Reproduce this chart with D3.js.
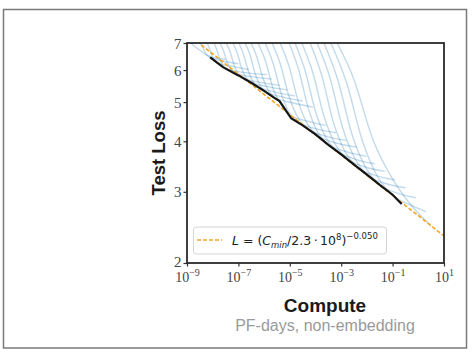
<!DOCTYPE html>
<html>
<head>
<meta charset="utf-8">
<script src="https://cdn.jsdelivr.net/npm/d3@7"></script>
<style>
body { margin: 0; background: #fff; }
svg { display: block; }
</style>
</head>
<body>
<script>
// compute is stored as log10(PF-days), loss as test loss

// lower envelope of all runs (black)
var frontier = [[-8.1,6.45],[-7.6,6.1],[-7.0,5.82],[-6.5,5.58],[-6.0,5.33],[-5.6,5.12],[-5.4,5.03],
  [-5.2,4.82],[-4.95,4.56],[-4.5,4.38],[-4.0,4.16],[-3.5,3.92],[-3.0,3.71],[-2.5,3.5],
  [-2.0,3.31],[-1.5,3.12],[-1.0,2.95],[-0.65,2.8]];

// learning curves, one per model size (light blue)
var runs = [
  [[-8.85,7.0],[-8.7,6.86],[-8.5,6.72],[-8.25,6.55],[-8.05,6.46],[-7.5,6.38]],
  [[-8.49,7.0],[-8.39,6.85],[-8.295,6.64],[-8.2,6.51],[-8.1,6.45],[-7.6,6.32],[-7.0,6.22]],
  [[-8.22,7.0],[-8.13,6.8],[-8.035,6.52],[-7.94,6.36],[-7.85,6.27],[-7.2,6.12],[-6.6,6.02]],
  [[-7.95,7.0],[-7.84,6.74],[-7.725,6.38],[-7.61,6.16],[-7.5,6.05],[-6.8,5.92],[-5.9,5.85]],
  [[-7.72,7.0],[-7.58,6.7],[-7.435,6.27],[-7.29,6.02],[-7.15,5.9],[-6.5,5.78],[-5.7,5.7]],
  [[-7.48,7.0],[-7.32,6.65],[-7.165,6.17],[-7.01,5.89],[-6.85,5.75],[-6.2,5.6],[-5.4,5.5]],
  [[-7.21,7.0],[-7.045,6.61],[-6.88,6.08],[-6.715,5.76],[-6.55,5.61],[-5.9,5.47],[-5.1,5.36]],
  [[-6.98,7.0],[-6.8,6.56],[-6.615,5.97],[-6.43,5.62],[-6.25,5.46],[-5.6,5.3],[-4.8,5.18]],
  [[-6.74,7.0],[-6.54,6.52],[-6.345,5.87],[-6.15,5.49],[-5.95,5.31],[-5.3,5.15],[-4.5,5.03]],
  [[-6.51,7.0],[-6.28,6.46],[-6.055,5.75],[-5.83,5.34],[-5.6,5.14],[-4.9,4.98],[-4.1,4.86]],
  [[-6.24,7.0],[-5.94,6.3],[-5.645,5.39],[-5.35,4.95],[-5.05,4.66],[-4.4,4.5],[-3.6,4.38]],
  [[-5.96,7.0],[-5.645,6.22],[-5.33,5.24],[-5.015,4.7],[-4.7,4.46],[-4.0,4.3],[-3.2,4.2]],
  [[-5.69,7.0],[-5.355,6.17],[-5.02,5.14],[-4.685,4.58],[-4.35,4.32],[-3.6,4.12],[-2.8,4.02]],
  [[-5.38,7.0],[-5.02,6.11],[-4.665,5.0],[-4.31,4.41],[-3.95,4.15],[-3.2,3.96],[-2.4,3.87]],
  [[-5.03,7.0],[-4.66,6.03],[-4.29,4.85],[-3.92,4.22],[-3.55,3.95],[-2.8,3.77],[-2.0,3.67]],
  [[-4.8,7.0],[-4.4,5.97],[-4.0,4.74],[-3.6,4.09],[-3.2,3.8],[-2.5,3.62],[-1.7,3.52]],
  [[-4.53,7.0],[-4.1,5.9],[-3.665,4.6],[-3.23,3.93],[-2.8,3.63],[-2.1,3.46],[-1.3,3.37]],
  [[-4.21,7.0],[-3.76,5.83],[-3.305,4.46],[-2.85,3.77],[-2.4,3.46],[-1.7,3.3],[-0.9,3.21]],
  [[-3.94,7.0],[-3.44,5.75],[-2.945,4.32],[-2.45,3.61],[-1.95,3.29],[-1.3,3.15],[-0.5,3.07]],
  [[-3.67,7.0],[-3.13,5.67],[-2.585,4.17],[-2.04,3.44],[-1.5,3.12],[-0.9,2.99],[-0.1,2.9]],
  [[-3.4,7.0],[-2.79,5.58],[-2.175,4.01],[-1.56,3.25],[-0.95,2.93],[-0.3,2.78],[0.3,2.68]],
  [[-3.16,7.0],[-2.54,5.77],[-1.76,4.03],[-0.98,3.21],[-0.3,2.79],[0.5,2.47]]
];

// power-law fit from the legend: L = (C / 2.3e8)^-0.050
var fitScale = 2.3e8, fitAlpha = 0.050;
var fitCompute = [1e-9, 1e1];

var xTicks = [-9, -7, -5, -3, -1, 1];
var yTicks = [2, 3, 4, 5, 6, 7];

var W = 474, H = 353;
var plot = {left: 187, right: 444, top: 43, bottom: 263};

var svg = d3.select("body").append("svg")
  .attr("width", W).attr("height", H);

// outer frame of the screenshot
svg.append("rect")
  .attr("x", 3.5).attr("y", 9.5).attr("width", 463).attr("height", 338.5)
  .attr("fill", "none").attr("stroke", "#7a7a7a").attr("stroke-width", 1.5);

var x = d3.scaleLog().domain([1e-9, 1e1]).range([plot.left, plot.right]);
var y = d3.scaleLog().domain([2, 7]).range([plot.bottom, plot.top]);

svg.append("clipPath").attr("id", "clip")
  .append("rect")
  .attr("x", plot.left).attr("y", plot.top)
  .attr("width", plot.right - plot.left).attr("height", plot.bottom - plot.top);

var line = d3.line()
  .x(d => x(Math.pow(10, d[0])))
  .y(d => y(d[1]))
  .curve(d3.curveMonotoneX);

var g = svg.append("g").attr("clip-path", "url(#clip)");

// runs
g.selectAll("path.run")
  .data(runs).enter().append("path")
  .attr("class", "run")
  .attr("d", line)
  .attr("fill", "none")
  .attr("stroke", "#1f77b4")
  .attr("stroke-opacity", 0.27)
  .attr("stroke-width", 1.4);

// fit line
var fitData = fitCompute.map(c => [c, Math.pow(c / fitScale, -fitAlpha)]);
g.append("path")
  .attr("d", d3.line().x(d => x(d[0])).y(d => y(d[1]))(fitData))
  .attr("fill", "none")
  .attr("stroke", "#f5a623")
  .attr("stroke-width", 1.6)
  .attr("stroke-dasharray", "4,2");

// frontier
g.append("path")
  .attr("d", d3.line().x(d => x(Math.pow(10, d[0]))).y(d => y(d[1]))(frontier))
  .attr("fill", "none")
  .attr("stroke", "#151515")
  .attr("stroke-width", 2.2);

// axes
var xAxis = svg.append("g")
  .attr("transform", "translate(0," + plot.bottom + ")")
  .call(d3.axisBottom(x).tickValues(xTicks.map(e => Math.pow(10, e))).tickSize(3.5).tickFormat(""));
var yAxis = svg.append("g")
  .attr("transform", "translate(" + plot.left + ",0)")
  .call(d3.axisLeft(y).tickValues(yTicks).tickSize(3.5).tickFormat(""));
svg.selectAll(".domain").remove();
svg.selectAll(".tick line").attr("stroke", "#333").attr("stroke-width", 1.2);

// x tick labels as 10^n
xAxis.selectAll(".tick").data(xTicks)
  .append("text")
  .attr("y", 19)
  .attr("text-anchor", "middle")
  .attr("fill", "#444")
  .style("font-family", "'Liberation Serif', serif")
  .style("font-size", "14px")
  .each(function(e) {
    var t = d3.select(this);
    t.append("tspan").text("10");
    t.append("tspan").attr("dy", -6).style("font-size", "10px")
      .text(String(e).replace("-", "\u2212"));
  });

yAxis.selectAll(".tick").data(yTicks)
  .append("text")
  .attr("x", -5.5)
  .attr("dy", d => d === 2 ? "0.2em" : "0.34em")
  .attr("text-anchor", "end")
  .attr("fill", "#444")
  .style("font-family", "'Liberation Serif', serif")
  .style("font-size", "15px")
  .text(d => d);

// plot frame
svg.append("rect")
  .attr("x", plot.left).attr("y", plot.top)
  .attr("width", plot.right - plot.left).attr("height", plot.bottom - plot.top)
  .attr("fill", "none").attr("stroke", "#2a2a2a").attr("stroke-width", 1.8);

// legend
var lg = svg.append("g");
lg.append("rect")
  .attr("x", 193.5).attr("y", 227).attr("width", 193).attr("height", 27).attr("rx", 3)
  .attr("fill", "#fff").attr("fill-opacity", 0.85)
  .attr("stroke", "#d4d4d4").attr("stroke-width", 1);
lg.append("line")
  .attr("x1", 197).attr("x2", 222).attr("y1", 240).attr("y2", 240)
  .attr("stroke", "#f5a623").attr("stroke-width", 1.6).attr("stroke-dasharray", "4,2");
var lt = lg.append("text")
  .attr("x", 232).attr("y", 245)
  .attr("fill", "#222")
  .style("font-family", "'DejaVu Sans', sans-serif")
  .style("font-size", "12.5px");
lt.append("tspan").style("font-style", "italic").text("L");
lt.append("tspan").text(" = (");
lt.append("tspan").style("font-style", "italic").text("C");
lt.append("tspan").attr("dy", 3).style("font-size", "8.5px").style("font-style", "italic").text("min");
lt.append("tspan").attr("dy", -3).text("/2.3\u2009\u00b7\u200910");
lt.append("tspan").attr("dy", -5).style("font-size", "8.5px").text("8");
lt.append("tspan").attr("dy", 5).text(")");
lt.append("tspan").attr("dy", -6).style("font-size", "8.5px").text("\u22120.050");

// axis titles
svg.append("text")
  .attr("transform", "translate(165,153) rotate(-90)")
  .attr("text-anchor", "middle")
  .attr("fill", "#1a1a1a")
  .style("font-family", "'Liberation Sans', Arial, sans-serif")
  .style("font-weight", "bold")
  .style("font-size", "18.5px")
  .text("Test Loss");

svg.append("text")
  .attr("x", 325).attr("y", 312)
  .attr("text-anchor", "middle")
  .attr("fill", "#1a1a1a")
  .style("font-family", "'Liberation Sans', Arial, sans-serif")
  .style("font-weight", "bold")
  .style("font-size", "19px")
  .text("Compute");

svg.append("text")
  .attr("x", 325).attr("y", 331)
  .attr("text-anchor", "middle")
  .attr("fill", "#9a9a9a")
  .style("font-family", "'Liberation Sans', Arial, sans-serif")
  .style("font-size", "16px")
  .text("PF-days, non-embedding");
</script>
</body>
</html>
